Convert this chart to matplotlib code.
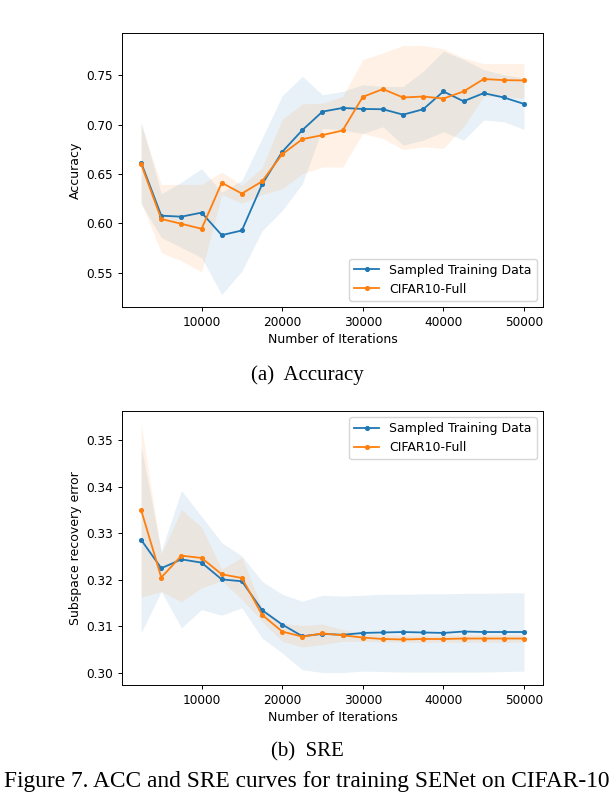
import numpy as np
import matplotlib.pyplot as plt

# iterations at which the models were evaluated
iters = np.arange(2500, 50001, 2500)

# (a) accuracy
acc_sampled = [0.6616, 0.6079, 0.6069, 0.6110, 0.5882, 0.5929, 0.6395, 0.6725, 0.6946, 0.7133,
               0.7170, 0.7160, 0.7157, 0.7102, 0.7157, 0.7337, 0.7238, 0.7320, 0.7276, 0.7211]
acc_sampled_hi = [0.7031, 0.6300, 0.6419, 0.6555, 0.6317, 0.6436, 0.6861, 0.7293, 0.7490, 0.7303,
                  0.7337, 0.7405, 0.7388, 0.7388, 0.7541, 0.7745, 0.7660, 0.7558, 0.7507, 0.7473]
acc_sampled_lo = [0.6201, 0.5858, 0.5756, 0.5654, 0.5280, 0.5518, 0.5926, 0.6130, 0.6402, 0.6963,
                  0.6946, 0.6912, 0.6980, 0.6793, 0.6844, 0.6929, 0.6844, 0.7048, 0.7031, 0.6953]

acc_full = [0.6602, 0.6045, 0.5997, 0.5946, 0.6412, 0.6303, 0.6426, 0.6701, 0.6854, 0.6895,
            0.6942, 0.7282, 0.7361, 0.7276, 0.7286, 0.7265, 0.7337, 0.7463, 0.7452, 0.7449]
acc_full_hi = [0.6997, 0.6395, 0.6395, 0.6395, 0.6521, 0.6385, 0.6565, 0.7055, 0.7211, 0.7218,
               0.7286, 0.7660, 0.7728, 0.7803, 0.7803, 0.7769, 0.7677, 0.7619, 0.7619, 0.7619]
acc_full_lo = [0.6215, 0.5705, 0.5620, 0.5511, 0.6293, 0.6205, 0.6293, 0.6351, 0.6504, 0.6572,
               0.6572, 0.6912, 0.6861, 0.6749, 0.6776, 0.6759, 0.6980, 0.7286, 0.7286, 0.7269]

# (b) subspace recovery error
sre_sampled = [0.3286, 0.3225, 0.3244, 0.3237, 0.3201, 0.3197, 0.3135, 0.3104, 0.3079, 0.3084,
               0.3082, 0.3086, 0.3087, 0.3088, 0.3087, 0.3086, 0.3089, 0.3088, 0.3088, 0.3088]
sre_sampled_hi = [0.3486, 0.3262, 0.3392, 0.3336, 0.3280, 0.3251, 0.3197, 0.3169, 0.3154, 0.3167,
                  0.3165, 0.3167, 0.3169, 0.3169, 0.3170, 0.3170, 0.3171, 0.3171, 0.3172, 0.3172]
sre_sampled_lo = [0.3086, 0.3175, 0.3097, 0.3136, 0.3124, 0.3140, 0.3075, 0.3043, 0.3007, 0.3001,
                  0.3001, 0.3004, 0.3003, 0.3002, 0.3002, 0.3002, 0.3002, 0.3002, 0.3003, 0.3004]

sre_full = [0.3350, 0.3205, 0.3252, 0.3247, 0.3212, 0.3204, 0.3125, 0.3089, 0.3078, 0.3085,
            0.3081, 0.3076, 0.3073, 0.3072, 0.3073, 0.3073, 0.3074, 0.3074, 0.3074, 0.3074]
sre_full_hi = [0.3536, 0.3255, 0.3351, 0.3313, 0.3223, 0.3248, 0.3140, 0.3107, 0.3102, 0.3105,
               0.3093, 0.3084, 0.3082, 0.3081, 0.3081, 0.3081, 0.3082, 0.3082, 0.3082, 0.3082]
sre_full_lo = [0.3163, 0.3175, 0.3153, 0.3183, 0.3198, 0.3158, 0.3111, 0.3068, 0.3056, 0.3061,
               0.3068, 0.3068, 0.3067, 0.3066, 0.3066, 0.3066, 0.3066, 0.3066, 0.3066, 0.3066]

blue = '#1f77b4'
orange = '#ff7f0e'
fs = 9

fig = plt.figure(figsize=(6.13, 8.05), dpi=100)
ax1 = fig.add_axes([0.199, 0.6186, 0.687, 0.3404])
ax2 = fig.add_axes([0.199, 0.1491, 0.687, 0.3404])


def draw(ax, y1, lo1, hi1, y2, lo2, hi2, ylabel, loc):
    ax.plot(iters, y1, '.-', color=blue, lw=1.3, ms=5.3, label='Sampled Training Data')
    ax.fill_between(iters, lo1, hi1, color=blue, alpha=0.1, lw=0)
    ax.plot(iters, y2, '.-', color=orange, lw=1.3, ms=5.3, label='CIFAR10-Full')
    ax.fill_between(iters, lo2, hi2, color=orange, alpha=0.1, lw=0)
    ax.set_xlabel('Number of Iterations', fontsize=fs, labelpad=3)
    ax.set_ylabel(ylabel, fontsize=fs, labelpad=3)
    ax.tick_params(labelsize=8.7, length=3, width=0.7)
    for s in ax.spines.values():
        s.set_linewidth(0.7)
    ax.legend(loc=loc, fontsize=fs)


draw(ax1, acc_sampled, acc_sampled_lo, acc_sampled_hi,
     acc_full, acc_full_lo, acc_full_hi, 'Accuracy', 'lower right')
draw(ax2, sre_sampled, sre_sampled_lo, sre_sampled_hi,
     sre_full, sre_full_lo, sre_full_hi, 'Subspace recovery error', 'upper right')

serif = 'Liberation Serif'
fig.text(0.501, (805 - 380) / 805, '(a)  Accuracy', ha='center', va='baseline',
         fontsize=15, family=serif)
fig.text(0.501, (805 - 756) / 805, '(b)  SRE', ha='center', va='baseline',
         fontsize=15, family=serif)
fig.text(0.5, (805 - 787) / 805, 'Figure 7. ACC and SRE curves for training SENet on CIFAR-10',
         ha='center', va='baseline', fontsize=16.8, family=serif)

fig.savefig('out.png', dpi=100)
